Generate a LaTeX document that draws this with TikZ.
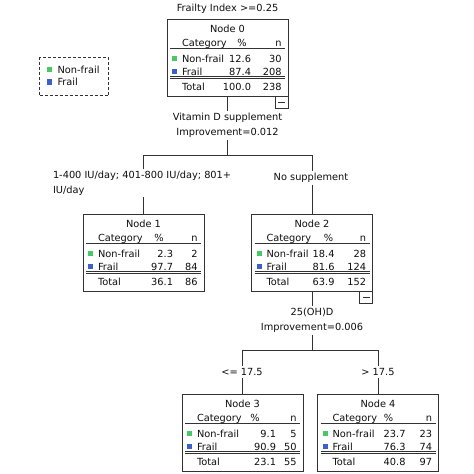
\documentclass[tikz,border=0pt]{standalone}
\usepackage{fontspec}
\setmainfont{DejaVu Sans}
\definecolor{linec}{RGB}{50,50,50}
\definecolor{txtc}{RGB}{15,15,15}
\definecolor{fgreen}{RGB}{70,200,100}
\definecolor{fblue}{RGB}{60,95,200}
\tikzset{
  boxst/.style={draw=linec, line width=1pt, minimum width=121pt, minimum height=77pt, inner sep=0pt, outer sep=0pt, anchor=north west},
  tx/.style={inner sep=0pt, outer sep=0pt, text=txtc},
  lbl/.style={inner sep=2pt, outer sep=0pt, text=txtc},
  sq/.style={inner sep=0pt, outer sep=0pt, minimum size=5pt},
  rule/.style={draw=linec, line width=1pt},
  edge/.style={draw=linec, line width=1pt},
  minusbox/.style={draw=linec, line width=1pt, minimum width=13pt, minimum height=12pt, inner sep=0pt, outer sep=0pt, anchor=north east}
}
% #1 name, #2 left, #3 top, #4 title, #5 centre of the % header
\newcommand\tbox[5]{%
  \node[boxst] (#1) at (#2,#3) {};
  \begin{scope}[shift={(#1.north west)}]
    \node[tx,anchor=base] (#1-ti) at (60.5,13.5) {#4};
    \node[tx,anchor=base west] (#1-hc) at (15,27.5) {Category};
    \node[tx,anchor=base] (#1-hp) at (#5,27.5) {\%};
    \node[tx,anchor=base east] (#1-hn) at (114.5,27.5) {n};
    \draw[rule] (3,29.5) -- (118,29.5);
    \node[sq,fill=fgreen] (#1-sg) at (7.5,39.5) {};
    \node[tx,anchor=base west] (#1-c1) at (15,43) {Non-frail};
    \node[sq,fill=fblue] (#1-sb) at (7.5,52.5) {};
    \node[tx,anchor=base west] (#1-c2) at (15,56) {Frail};
    \draw[rule] (3,57.5) -- (118,57.5);
    \draw[rule] (3,59.7) -- (118,59.7);
    \node[tx,anchor=base west] (#1-c3) at (15,71.5) {Total};
  \end{scope}
}
% #1 name, #2 % column right edge, #3..#8 values
\newcommand\tvals[8]{%
  \begin{scope}[shift={(#1.north west)}]
    \node[tx,anchor=base east] (#1-p1) at (#2,43) {#3};
    \node[tx,anchor=base east] (#1-n1) at (114.5,43) {#4};
    \node[tx,anchor=base east] (#1-p2) at (#2,56) {#5};
    \node[tx,anchor=base east] (#1-n2) at (114.5,56) {#6};
    \node[tx,anchor=base east] (#1-p3) at (#2,71.5) {#7};
    \node[tx,anchor=base east] (#1-n3) at (114.5,71.5) {#8};
  \end{scope}
}
\begin{document}
\begin{tikzpicture}[x=1pt,y=-1pt,font=\fontsize{9.8}{15}\selectfont]
\useasboundingbox[fill=white] (0,0) rectangle (474,474);

% legend
\node[draw=linec, dash pattern=on 3pt off 2pt, line width=1pt, minimum width=69pt, minimum height=38pt, inner sep=0pt, anchor=north west] (leg) at (39,57) {};
\node[sq,minimum size=5.5pt,fill=fgreen] (leg-g) at (49.5,69.5) {};
\node[tx,anchor=base west] (leg-t1) at (57.5,73.5) {Non-frail};
\node[sq,minimum size=5.5pt,fill=fblue] (leg-b) at (49.5,82) {};
\node[tx,anchor=base west] (leg-t2) at (57.5,85.5) {Frail};

% title
\node[tx,anchor=base] (ft) at (227.5,11.5) {Frailty Index >=0.25};

% node 0
\tbox{n0}{167}{19}{Node 0}{75}
\tvals{n0}{84}{12.6}{30}{87.4}{208}{100.0}{238}
\node[minusbox] (m0) at (n0.south east) {};
\draw[edge] ([xshift=-3.5pt]m0.center) -- ([xshift=3.5pt]m0.center);

% split 0
\node[lbl,align=center] (s0) at (227.5,125.5) {Vitamin D supplement\\Improvement=0.012};
\coordinate (j0) at (227.5,155);
\coordinate (jl) at (143.5,155);
\coordinate (jr) at (312,155);
\draw[edge] (n0.south) -- (s0.north);
\draw[edge] (s0.south) -- (j0);
\draw[edge] (jl) -- (jr);

% node 1
\tbox{n1}{83}{214}{Node 1}{76}
\tvals{n1}{90}{2.3}{2}{97.7}{84}{36.1}{86}
\node[lbl,align=left,anchor=north west] (l1) at (51,169) {1-400 IU/day; 401-800 IU/day; 801+\\IU/day};
\draw[edge] (jl) -- (l1.north -| jl);
\draw[edge] (l1.south -| jl) -- (n1.north);

% node 2
\tbox{n2}{251.5}{214}{Node 2}{77}
\tvals{n2}{83}{18.4}{28}{81.6}{124}{63.9}{152}
\node[minusbox] (m2) at (n2.south east) {};
\draw[edge] ([xshift=-3.5pt]m2.center) -- ([xshift=3.5pt]m2.center);
\node[lbl] (r1) at (311,178) {No supplement};
\draw[edge] (jr) -- (r1.north -| jr);
\draw[edge] (r1.south -| jr) -- (n2.north);

% split 2
\node[lbl,align=center] (s2) at (312,320.5) {25(OH)D\\Improvement=0.006};
\coordinate (j2) at (312,350);
\coordinate (jl2) at (242.5,350);
\coordinate (jr2) at (378,350);
\draw[edge] (n2.south) -- (s2.north);
\draw[edge] (s2.south) -- (j2);
\draw[edge] (jl2) -- (jr2);

% node 3
\tbox{n3}{182}{394}{Node 3}{73}
\tvals{n3}{94}{9.1}{5}{90.9}{50}{23.1}{55}
\node[lbl] (ll2) at (242,372) {<= 17.5};
\draw[edge] (jl2) -- (ll2.north -| jl2);
\draw[edge] (ll2.south -| jl2) -- (n3.north);

% node 4
\tbox{n4}{317.5}{394}{Node 4}{71}
\tvals{n4}{88}{23.7}{23}{76.3}{74}{40.8}{97}
\node[lbl] (lr2) at (378,372) {> 17.5};
\draw[edge] (jr2) -- (lr2.north -| jr2);
\draw[edge] (lr2.south -| jr2) -- (n4.north);
\end{tikzpicture}
\end{document}
